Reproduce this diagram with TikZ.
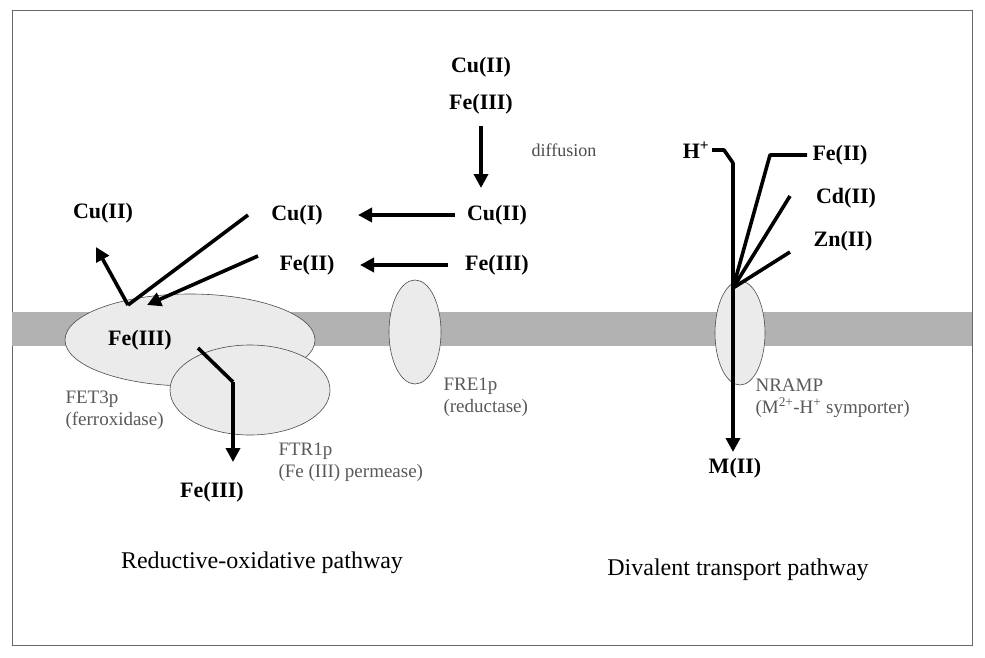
\documentclass[tikz,border=0pt]{standalone}
\usepackage{fontspec}
\setmainfont{Liberation Serif}
\usetikzlibrary{arrows.meta,patterns}
\begin{document}
\begin{tikzpicture}[x=1pt,y=-1pt,
  lbl/.style={font=\bfseries\fontsize{22}{24}\selectfont},
  gl/.style={text=black!65,font=\fontsize{19}{22}\selectfont,align=left,anchor=west},
  captxt/.style={font=\fontsize{24}{27}\selectfont},
  ar/.style={line width=3.6pt,-{Triangle[length=14pt,width=14pt]}},
  ln/.style={line width=3.6pt},
  ell/.style={draw=black!70,fill=black!8,line width=0.6pt}]
\useasboundingbox (0,0) rectangle (985,658);
\fill[white] (0,0) rectangle (985,658);
\draw[black!60,line width=0.8pt] (12,10) rectangle (972,645);
\fill[black!30] (12,312) rectangle (972,346);
\draw[ell] (190,340) ellipse [x radius=125,y radius=46];
\draw[ell] (250,390) ellipse [x radius=80,y radius=45];
\draw[ell] (415,332) ellipse [x radius=26,y radius=52];
\draw[ell] (740,333) ellipse [x radius=25,y radius=52];
\node[lbl] (cu0) at (481,67) {Cu(II)};
\node[lbl] (fe0) at (481,104) {Fe(III)};
\node[text=black!70,font=\fontsize{18}{20}\selectfont] (dif) at (564,150) {diffusion};
\node[lbl] (cu2) at (497,215) {Cu(II)};
\node[lbl] (fe3) at (497,265) {Fe(III)};
\node[lbl] (cu1) at (297,215) {Cu(I)};
\node[lbl] (fe2) at (307,265) {Fe(II)};
\node[lbl] (cuL) at (103,213) {Cu(II)};
\node[lbl] (feM) at (140,340) {Fe(III)};
\node[lbl] (feB) at (212,492) {Fe(III)};
\draw[ar] (481,126) -- (481,188);
\draw[ar] (455,215) -- (358,215);
\draw[ar] (448,265) -- (360,265);
\coordinate (v) at (128,305);
\draw[ln] (248,215) -- (v);
\draw[ar] (v) -- (96,247);
\draw[ar] (258,256) -- (147,305);
\coordinate (k) at (233,382);
\draw[ln] (198,348) -- (k);
\draw[ar] (k) -- (233,462);
\node[gl] (fet) at (62,410) {FET3p\\(ferroxidase)};
\node[gl] (ftr) at (275,462) {FTR1p\\(Fe (III) permease)};
\node[gl] (fre) at (440,397) {FRE1p\\(reductase)};
\node[gl] (nra) at (752,398) {NRAMP\\(M\textsuperscript{2+}-H\textsuperscript{+} symporter)};
\node[lbl] (hp) at (696,150) {H\textsuperscript{+}};
\node[lbl] (fe2r) at (840,155) {Fe(II)};
\node[lbl] (cdr) at (846,198) {Cd(II)};
\node[lbl] (znr) at (843,241) {Zn(II)};
\node[lbl] (mr) at (735,468) {M(II)};
\coordinate (j) at (733,288);
\draw[ar,line join=round] (712,150) -- (724,150) -- (733,163) -- (733,452);
\draw[ln,line join=round] (807,155) -- (770,155) -- (j);
\draw[ln] (790,196) -- (j);
\draw[ln] (790,252) -- (j);
\node[captxt] (c1) at (262,563) {Reductive-oxidative pathway};
\node[captxt] (c2) at (738,570) {Divalent transport pathway};
\end{tikzpicture}
\end{document}
